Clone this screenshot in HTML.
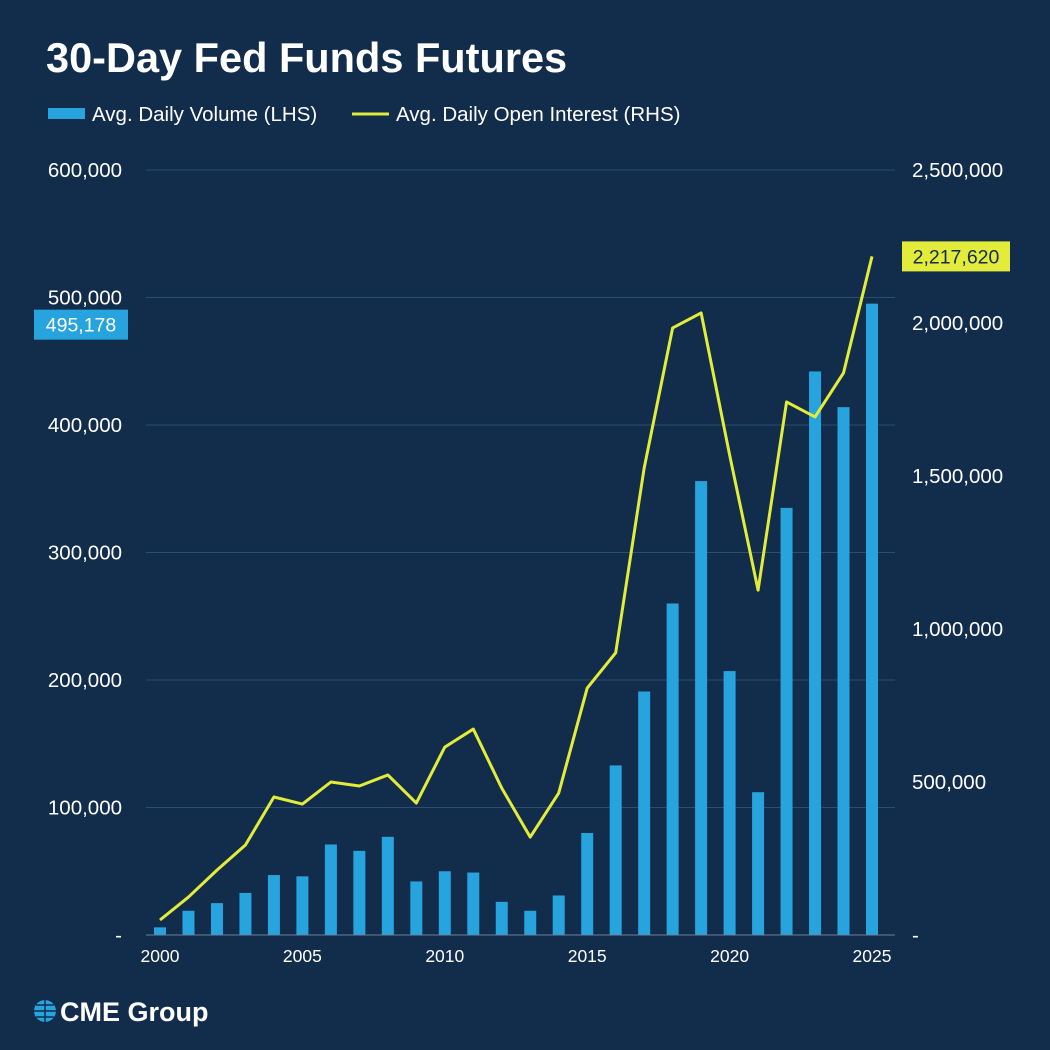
<!DOCTYPE html>
<html><head><meta charset="utf-8"><style>
html,body{margin:0;padding:0;background:#122c4c;}
svg{display:block;font-family:"Liberation Sans",Arial,sans-serif;}
</style></head><body>
<svg id="chart" width="1050" height="1050" viewBox="0 0 1050 1050">
<rect width="1050" height="1050" fill="#122c4c"/>
<text x="46" y="72" fill="#fff" font-size="41.5" font-weight="bold">30-Day Fed Funds Futures</text>
<g>
<rect x="48" y="108" width="37" height="11" fill="#27a4de"/>
<text x="92" y="121" fill="#fff" font-size="20.5">Avg. Daily Volume (LHS)</text>
<line x1="352" y1="114" x2="389" y2="114" stroke="#e3ec3a" stroke-width="3"/>
<text x="396" y="121" fill="#fff" font-size="20.5">Avg. Daily Open Interest (RHS)</text>
</g>
<g id="grid"></g><g id="bars"></g><g id="line"></g><g id="axes"></g>
<g>
<circle cx="45" cy="1011" r="11" fill="#27a4de"/>
<path d="M34 1011h22M45 1000v22M36 1005h18M36 1017h18" stroke="#122c4c" stroke-width="1.5"/>
<text x="60" y="1021" fill="#fff" font-size="27" font-weight="bold">CME Group</text>
</g>
</svg>
<script>
const years=[2000,2001,2002,2003,2004,2005,2006,2007,2008,2009,2010,2011,2012,2013,2014,2015,2016,2017,2018,2019,2020,2021,2022,2023,2024,2025];
const volume=[6000,19000,25000,33000,47000,46000,71000,66000,77000,42000,50000,49000,26000,19000,31000,80000,133000,191000,260000,356000,207000,112000,335000,442000,414000,495178];
const openInterest=[49000,124000,212000,294000,451000,428000,500000,487000,523000,431000,614000,673000,480000,320000,464000,807000,922000,1526000,1984000,2033000,1569000,1127000,1742000,1693000,1837000,2217620];
const leftTicks=[0,100000,200000,300000,400000,500000,600000];
const rightTicks=[0,500000,1000000,1500000,2000000,2500000];
const xTickYears=[2000,2005,2010,2015,2020,2025];
const NS="http://www.w3.org/2000/svg";
const plotTop=170,plotBot=935,x0=160,x1=872;
const yL=v=>plotBot-(v/600000)*(plotBot-plotTop);
const yR=v=>plotBot-(v/2500000)*(plotBot-plotTop);
const xS=yr=>x0+(yr-2000)*(x1-x0)/25;
function mk(tag,attrs,parent,txt){const e=document.createElementNS(NS,tag);for(const k in attrs)e.setAttribute(k,attrs[k]);if(txt!==undefined)e.textContent=txt;document.getElementById(parent).appendChild(e);return e;}
const fmt=v=>v===0?"-":v.toLocaleString("en-US");
leftTicks.forEach(v=>{
 if(v>0){const l=mk("line",{x1:146,x2:895,y1:yL(v),y2:yL(v),stroke:"#2f4d6c","stroke-width":1},"grid");
 
 }
 const t=mk("text",{x:122,y:yL(v)+7,"text-anchor":"end",fill:"#fff","font-size":20.5},"axes",fmt(v));
 
 
});
const base=mk("line",{x1:146,x2:895,y1:plotBot,y2:plotBot,stroke:"#6a7f98","stroke-width":1},"axes");


rightTicks.forEach(v=>{
 const t=mk("text",{x:912,y:yR(v)+7,"text-anchor":"start",fill:"#fff","font-size":20.5},"axes",fmt(v));
 
 
});
xTickYears.forEach(yr=>{
 const t=mk("text",{x:xS(yr),y:962,"text-anchor":"middle",fill:"#fff","font-size":17.5},"axes",String(yr));
 
 
});
years.forEach((yr,i)=>{
 const b=mk("rect",{x:xS(yr)-6,y:yL(volume[i]),width:12,height:plotBot-yL(volume[i]),fill:"#27a4de"},"bars");
 
 
});
const pts=years.map((yr,i)=>xS(yr)+","+yR(openInterest[i])).join(" ");
const pl=mk("polyline",{points:pts,fill:"none",stroke:"#e3ec3a","stroke-width":3,"stroke-linejoin":"round"},"line");


const lv=volume[volume.length-1],lo=openInterest[openInterest.length-1];
const ly=yL(lv)+21;
const r1=mk("rect",{x:34,y:ly-15,width:94,height:30,fill:"#27a4de"},"axes");


const t1=mk("text",{x:81,y:ly+7,"text-anchor":"middle",fill:"#fff","font-size":19.5},"axes",lv.toLocaleString("en-US"));


const r2=mk("rect",{x:902,y:yR(lo)-15,width:108,height:30,fill:"#e3ec3a"},"axes");


const t2=mk("text",{x:956,y:yR(lo)+7,"text-anchor":"middle",fill:"#122c4c","font-size":19.5},"axes",lo.toLocaleString("en-US"));


</script>
</body></html>
